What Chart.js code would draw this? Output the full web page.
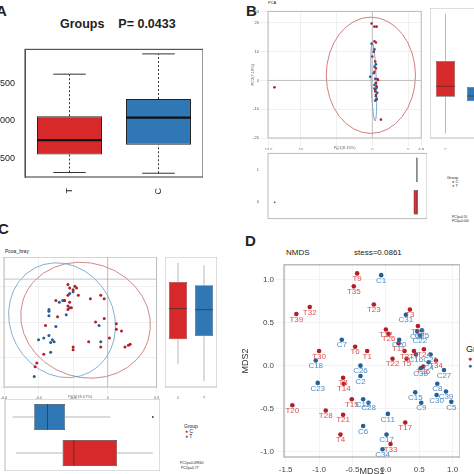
<!DOCTYPE html>
<html><head><meta charset="utf-8">
<script src="https://cdn.jsdelivr.net/npm/chart.js@4"></script>
<style>
body{margin:0;width:474px;height:474px;overflow:hidden;background:#fff;position:relative;font-family:'Liberation Sans',Arial,sans-serif}
canvas{position:absolute}
.t{position:absolute;white-space:nowrap;color:#222}
</style></head><body>
<div class="t" style="left:-4px;top:2px;font:bold 15px 'Liberation Sans'">A</div>
<div class="t" style="left:60px;top:17px;font:bold 12.5px 'Liberation Sans'">Groups&nbsp;&nbsp;&nbsp;&nbsp;P= 0.0433</div>
<div class="t" style="left:246px;top:2px;font:bold 15px 'Liberation Sans'">B</div>
<div class="t" style="left:268px;top:0px;font:4px 'Liberation Sans'">PCA</div>
<div class="t" style="left:-2px;top:220px;font:bold 15px 'Liberation Sans'">C</div>
<div class="t" style="left:5px;top:248px;font:5px 'Liberation Sans'">Pcoa_bray</div>
<div class="t" style="left:245px;top:232px;font:bold 15px 'Liberation Sans'">D</div>
<div class="t" style="left:286px;top:248px;font:8px 'Liberation Sans'">NMDS</div>
<div class="t" style="left:354px;top:248px;font:8px 'Liberation Sans'">stess=0.0861</div>
<div class="t" style="left:447px;top:175px;font:4px 'Liberation Sans'">Group</div>
<div class="t" style="left:452px;top:180px;font:4px 'Liberation Sans';line-height:4px"><span style="color:#d7282a">●</span> C<br><span style="color:#2f77b5">●</span> T</div>
<div class="t" style="left:452px;top:215px;font:3px 'Liberation Sans';line-height:4px">PC1p=0.16<br>PC2p=0.000</div>
<div class="t" style="left:184px;top:423px;font:5px 'Liberation Sans'">Group</div>
<div class="t" style="left:185px;top:429px;font:5px 'Liberation Sans';line-height:5px"><span style="color:#d7282a">●</span> C<br><span style="color:#2f77b5">●</span> T</div>
<div class="t" style="left:180px;top:461px;font:3.5px 'Liberation Sans';line-height:5px">PC1p=0.09940<br>&nbsp;PC2p=0.77</div>
<div class="t" style="left:466px;top:344px;font:9px 'Liberation Sans'">Gr</div>
<div class="t" style="left:468px;top:355px;font:7px 'Liberation Sans';line-height:7px"><span style="color:#c0282c">●</span><br><span style="color:#2c6da8">●</span></div>
<script>
// ---------- DATA ----------
const aCats = ['T','C'];
const aQ1 = [550, 680], aMed = [740, 1040], aQ3 = [1060, 1290], aLo = [310, 300], aHi = [1620, 1890];
const aTicks = [500, 1000, 1500];

const bRedPts = [[-13.6,-2.4],[-0.1,19.8],[0.3,18.7],[0.6,18.7],[0.3,13.6],[0.5,13.2],[0.2,10],[0.0,8.3],[0.4,6.6],[0.5,4.2],[0.7,0.5],[0.5,-1],[0.6,-2],[0.4,-3.2],[0.5,-5],[0.6,-6.4],[1.2,-13.6],[0.3,3.0],[0.8,0.2]];
const bBluePts = [[-0.1,12.8],[0.3,10.8],[0.5,5.6],[0.3,4.8],[0.2,2.5],[-0.3,1.3],[0.4,0.6],[0.5,-0.8],[0.3,-1.6],[0.6,-2.5],[0.4,-3.8],[0.7,-4.3],[0.5,-5.5],[0.6,-6.6],[0.4,-7],[0.3,-2.8]];
const bRightCats = ['C','T'];
const bRQ1 = [-6.0,-7.6], bRMed = [-2.5,-5.8], bRQ3 = [6.1,-2.7], bRLo = [-18.5,-8.5], bRHi = [22,-2.7];
const bROut = [[], [13.4, 5.0]];
const bBotCats = ['T','C'];
const bBQ1 = [5.35, 5.0], bBMed = [5.45, 5.3], bBQ3 = [5.55, 5.6], bBLo = [5.35, 5.0], bBHi = [5.55, 5.6];
const bBOut = [[], [-13.6]];

const cRedPts = [[-0.23,0.01],[-0.22,-0.01],[-0.19,0.0],[-0.18,-0.01],[-0.2,-0.02],[-0.23,-0.05],[-0.17,-0.05],[-0.25,-0.08],[-0.22,-0.09],[-0.3,-0.08],[-0.25,-0.08],[-0.23,-0.11],[-0.23,-0.13],[-0.21,-0.12],[-0.29,-0.17],[-0.36,-0.22],[-0.04,-0.05],[-0.02,-0.07],[-0.1,-0.07],[-0.07,-0.2],[-0.02,-0.18],[0.05,-0.21],[0.05,-0.24],[0.08,-0.25],[0.01,-0.29],[-0.11,-0.31],[-0.2,-0.34],[-0.2,-0.355],[-0.04,-0.34],[0.1,-0.34],[0.12,-0.33],[0.13,-0.325],[-0.37,-0.38],[-0.41,-0.43],[-0.42,-0.45]];
const cBluePts = [[-0.22,-0.04],[-0.2,-0.03],[-0.26,-0.08],[-0.28,-0.09],[-0.22,-0.12],[-0.24,-0.16],[-0.34,-0.13],[-0.34,-0.14],[-0.34,-0.165],[-0.3,-0.225],[-0.4,-0.3],[-0.37,-0.29],[-0.34,-0.275],[-0.32,-0.3],[-0.31,-0.31],[-0.33,-0.315],[-0.33,-0.37],[-0.05,-0.22],[-0.04,-0.31],[-0.425,-0.505]];
const cRightCats = ['C','T'];
const cRQ1 = [-0.297,-0.279], cRMed = [-0.125,-0.131], cRQ3 = [0.024,0.006], cRLo = [-0.437,-0.531], cRHi = [0.131,0.118];
const cBotCats = ['T','C'];
const cBQ1 = [-0.434,-0.272], cBMed = [-0.358,-0.208], cBQ3 = [-0.258,0.038], cBLo = [-0.557,-0.538], cBHi = [0.0,0.242];
const cBOut = [[0.242], []];

const dT = [['T9',-0.43,1.07],['T35',-0.48,0.92],['T23',-0.18,0.71],['T32',-1.14,0.68],['T39',-1.34,0.60],['T3',0.36,0.65],['T12',0.0,0.42],['T26',0.04,0.37],['T13',0.48,0.46],['T11',0.19,0.26],['T6',-0.46,0.22],['T1',-0.28,0.17],['T30',-1.0,0.17],['T2',0.28,0.17],['T7',0.42,0.17],['T24',0.57,0.19],['T34',0.75,0.06],['T22',0.10,0.08],['T5',0.31,0.08],['T36',0.56,-0.01],['T8',-0.64,-0.14],['T14',-0.63,-0.21],['T15',-0.51,-0.39],['T20',-1.40,-0.46],['T28',-0.90,-0.52],['T21',-0.64,-0.57],['T17',0.29,-0.66],['T4',-0.68,-0.80],['T33',0.07,-0.91]];
const dC = [['C1',-0.07,1.05],['C31',0.30,0.59],['C25',0.54,0.41],['C22',0.51,0.35],['C32',0.47,0.40],['C20',0.20,0.30],['C7',-0.66,0.30],['C16',0.45,0.13],['C21',0.67,0.13],['C4',0.64,0.04],['C18',-1.05,0.06],['C26',-0.38,0.0],['C38',0.52,-0.03],['C27',0.87,-0.05],['C2',-0.38,-0.12],['C23',-1.02,-0.20],['C8',0.77,-0.21],['C15',0.44,-0.31],['C30',0.76,-0.34],['C39',0.90,-0.30],['C12',-0.34,-0.39],['C28',-0.26,-0.43],['C9',0.53,-0.43],['C5',0.98,-0.42],['C11',0.03,-0.56],['C6',-0.34,-0.70],['C17',0.01,-0.80],['C34',-0.05,-0.97]];
const dXTicks = [-1.5,-1.0,-0.5,0.0,0.5,1.0];
const dYTicks = [-1.0,-0.5,0.0,0.5,1.0];

// ---------- STYLE ----------
const RED='#d7282a', BLUE='#2f77b5', DRED='#b3202a', DBLUE='#245f95';
Chart.defaults.font.family="'Liberation Sans', Arial, sans-serif";
Chart.defaults.animation=false;
Chart.defaults.plugins.legend.display=false;
Chart.defaults.plugins.tooltip.enabled=false;

const boxPlugin={id:'boxes',
 beforeDatasetsDraw(ch,a,o){ if(!o.items) return; draw(ch,o,true);},
 afterDatasetsDraw(ch,a,o){ if(!o.items) return; draw(ch,o,false);}};
function draw(ch,o,before){
 const ctx=ch.ctx, hz=o.horizontal, cs=hz?ch.scales.y:ch.scales.x, vs=hz?ch.scales.x:ch.scales.y;
 const meta=ch.getDatasetMeta(0);
 o.items.forEach((it,i)=>{
  const c=cs.getPixelForValue(i), el=meta.data[i];
  const bw=hz?el.height:el.width;
  const P=(v,w)=>hz?[vs.getPixelForValue(v),c+w]:[c+w,vs.getPixelForValue(v)];
  ctx.save();
  ctx.strokeStyle=o.whisk||'#333';ctx.lineWidth=o.lw||1;
  if(before){
   if(o.dash) ctx.setLineDash(o.dash);
   [[it.lo,it.q1],[it.q3,it.hi]].forEach(([a,b])=>{ctx.beginPath();ctx.moveTo(...P(a,0));ctx.lineTo(...P(b,0));ctx.stroke();});
   ctx.setLineDash([]);
   if(o.cap){[it.lo,it.hi].forEach(v=>{ctx.beginPath();ctx.moveTo(...P(v,-bw*o.cap/2));ctx.lineTo(...P(v,bw*o.cap/2));ctx.stroke();});}
  } else {
   ctx.strokeStyle=o.medc||'#111';ctx.lineWidth=o.mlw||1.5;
   ctx.beginPath();ctx.moveTo(...P(it.med,-bw/2));ctx.lineTo(...P(it.med,bw/2));ctx.stroke();
   (it.out||[]).forEach(v=>{const p=P(v,0);ctx.fillStyle='#333';ctx.beginPath();ctx.arc(p[0],p[1],o.or||1,0,7);ctx.fill();});
  }
  ctx.restore();
 });
}
const framePlugin={id:'frame',afterDraw(ch,a,o){if(!o.color)return;const c=ch.chartArea,x=ch.ctx;x.save();x.strokeStyle=o.color;x.lineWidth=o.lw||1;x.strokeRect(c.left,c.top,c.right-c.left,c.bottom-c.top);x.restore();}};
const ellPlugin={id:'ell',beforeDatasetsDraw(ch,a,o){
 const sx=ch.scales.x, sy=ch.scales.y, ctx=ch.ctx;
 (o.items||[]).forEach(e=>{const cx=sx.getPixelForValue(e.cx), cy=sy.getPixelForValue(e.cy);
  const rx=Math.abs(sx.getPixelForValue(e.cx+e.rx)-cx), ry=Math.abs(sy.getPixelForValue(e.cy+e.ry)-cy);
  ctx.save();ctx.strokeStyle=e.color;ctx.lineWidth=0.8;ctx.beginPath();ctx.ellipse(cx,cy,rx,ry,e.angle*Math.PI/180,0,Math.PI*2);ctx.stroke();ctx.restore();});
 (o.vlines||[]).forEach(v=>{const p=sx.getPixelForValue(v);ctx.save();ctx.strokeStyle='#aaa';ctx.lineWidth=0.7;ctx.beginPath();ctx.moveTo(p,ch.chartArea.top);ctx.lineTo(p,ch.chartArea.bottom);ctx.stroke();ctx.restore();});
 (o.hlines||[]).forEach(v=>{const p=sy.getPixelForValue(v);ctx.save();ctx.strokeStyle='#aaa';ctx.lineWidth=0.7;ctx.beginPath();ctx.moveTo(ch.chartArea.left,p);ctx.lineTo(ch.chartArea.right,p);ctx.stroke();ctx.restore();});
}};
const lblPlugin={id:'lbl',afterDatasetsDraw(ch,a,o){
 if(!o.on)return;const ctx=ch.ctx;ctx.save();ctx.font="8px 'Liberation Sans'";ctx.textAlign='center';ctx.textBaseline='top';
 ch.data.datasets.forEach((ds,di)=>{const m=ch.getDatasetMeta(di);ctx.fillStyle=ds.labelColor;
  m.data.forEach((pt,i)=>ctx.fillText(ds.names[i],pt.x,pt.y+1.5));});ctx.restore();}};
Chart.register(boxPlugin,framePlugin,ellPlugin,lblPlugin);

function mk(L,T,W,H,yW,xH,cfg){
 const c=document.createElement('canvas');c.width=W;c.height=H;c.style.left=L+'px';c.style.top=T+'px';c.style.width=W+'px';c.style.height=H+'px';
 document.body.appendChild(c);
 cfg.options=cfg.options||{};
 Object.assign(cfg.options,{responsive:false,layout:{padding:0,autoPadding:false}});
 cfg.options.scales.x.afterFit=s=>{s.height=xH;};
 cfg.options.scales.y.afterFit=s=>{s.width=yW;};
 return new Chart(c,cfg);
}
const tiny=(sz)=>({font:{size:sz},color:'#555',padding:1});
const boxItems=(q1,med,q3,lo,hi,out)=>q1.map((_,i)=>({q1:q1[i],med:med[i],q3:q3[i],lo:lo[i],hi:hi[i],out:out?out[i]:[]}));
const ggGrid={color:'#e6e6e6',lineWidth:0.6};

// ---------- PANEL A ----------
mk(-1,42,204,158,26,23,{type:'bar',
 data:{labels:aCats,datasets:[{data:aQ1.map((v,i)=>[v,aQ3[i]]),backgroundColor:[RED,BLUE],borderColor:'#222',borderWidth:1,borderSkipped:false,barPercentage:0.73,categoryPercentage:1}]},
 options:{scales:{
  x:{grid:{display:false},border:{display:false},ticks:{font:{size:9},color:'#222',maxRotation:90,minRotation:90}},
  y:{min:250,max:1950,grid:{display:false},border:{color:'#555'},afterBuildTicks:s=>{s.ticks=aTicks.map(v=>({value:v}));},ticks:{font:{size:9},color:'#222',padding:2}}},
  plugins:{boxes:{items:boxItems(aQ1,aMed,aQ3,aLo,aHi),dash:[2,2],cap:0.5,mlw:2.2},frame:{color:'#555',lw:1.2}}}});

// ---------- PANEL B ----------
mk(250,8,175,142,18,12,{type:'scatter',
 data:{datasets:[{data:bRedPts.map(p=>({x:p[0],y:p[1]})),backgroundColor:DRED,pointRadius:1.3,borderWidth:0},
  {data:bBluePts.map(p=>({x:p[0],y:p[1]})),backgroundColor:DBLUE,pointRadius:1.3,borderWidth:0}]},
 options:{scales:{
  x:{min:-14.5,max:6.8,grid:ggGrid,border:{display:false},ticks:{...tiny(4),stepSize:5},title:{display:true,text:'PC1(8.15%)',font:{size:4},padding:0}},
  y:{min:-20,max:24,grid:ggGrid,border:{display:false},ticks:{...tiny(4),stepSize:10},title:{display:true,text:'PC2(7.18%)',font:{size:4},padding:0}}},
  plugins:{ell:{items:[{cx:-0.2,cy:1.8,rx:6.2,ry:20.2,angle:0,color:'#c26060'},{cx:0.2,cy:-0.5,rx:0.36,ry:13.6,angle:-2,color:'#6090c0'}],vlines:[0],hlines:[0]},frame:{color:'#bbb',lw:1}}}});
mk(430,8,62,142,0,12,{type:'bar',
 data:{labels:bRightCats,datasets:[{data:bRQ1.map((v,i)=>[v,bRQ3[i]]),backgroundColor:[RED,BLUE],borderColor:'#555',borderWidth:0.6,borderSkipped:false,barPercentage:0.62,categoryPercentage:1}]},
 options:{scales:{x:{grid:{display:false},border:{display:false},ticks:tiny(4)},y:{min:-20,max:24,display:true,grid:{display:false},border:{display:false},ticks:{display:false}}},
  plugins:{boxes:{items:boxItems(bRQ1,bRMed,bRQ3,bRLo,bRHi,bROut),whisk:'#888',lw:0.6,medc:'#333',mlw:0.6,or:1},frame:{color:'#bbb',lw:1}}}});
mk(250,150,177,72,18,0,{type:'bar',
 data:{labels:bBotCats,datasets:[{data:bBQ1.map((v,i)=>[v,bBQ3[i]]),backgroundColor:['#222',DRED],borderColor:'#333',borderWidth:0.5,borderSkipped:false,barPercentage:0.75,categoryPercentage:1}]},
 options:{indexAxis:'y',scales:{x:{min:-14.5,max:6.8,display:true,grid:{display:false},border:{display:false},ticks:{display:false}},y:{grid:{display:false},border:{display:false},ticks:{...tiny(4),callback:(v,i)=>i===0?'1':'0'}}},
  plugins:{boxes:{items:boxItems(bBQ1,bBMed,bBQ3,bBLo,bBHi,bBOut),horizontal:true,whisk:'#555',lw:0.6,medc:'#999',mlw:0.5,or:0.8},frame:{color:'#bbb',lw:1}}}});

// ---------- PANEL C ----------
mk(0,257,160,142,4,12,{type:'scatter',
 data:{datasets:[{data:cRedPts.map(p=>({x:p[0],y:p[1]})),backgroundColor:DRED,pointRadius:1.5,borderWidth:0},
  {data:cBluePts.map(p=>({x:p[0],y:p[1]})),backgroundColor:DBLUE,pointRadius:1.5,borderWidth:0}]},
 options:{scales:{
  x:{min:-0.6,max:0.283,grid:ggGrid,border:{display:false},ticks:{...tiny(3.5),stepSize:0.2},title:{display:true,text:'PC1(18.07%)',font:{size:4},padding:0}},
  y:{min:-0.564,max:0.164,grid:ggGrid,border:{display:false},ticks:{display:false,stepSize:0.2}}},
  plugins:{ell:{items:[{cx:-0.128,cy:-0.19,rx:0.38,ry:0.32,angle:18,color:'#c46a6a'},{cx:-0.264,cy:-0.19,rx:0.30,ry:0.33,angle:-28,color:'#6a9ac4'}],vlines:[0],hlines:[0.04]},frame:{color:'#bbb',lw:1}}}});
mk(165,257,52,142,0,12,{type:'bar',
 data:{labels:cRightCats,datasets:[{data:cRQ1.map((v,i)=>[v,cRQ3[i]]),backgroundColor:[RED,BLUE],borderColor:'#444',borderWidth:0.6,borderSkipped:false,barPercentage:0.7,categoryPercentage:1}]},
 options:{scales:{x:{grid:{display:false},border:{display:false},ticks:tiny(3.5)},y:{min:-0.564,max:0.164,display:true,grid:{display:false},border:{display:false},ticks:{display:false}}},
  plugins:{boxes:{items:boxItems(cRQ1,cRMed,cRQ3,cRLo,cRHi),whisk:'#888',lw:0.6,medc:'#333',mlw:0.7},frame:{color:'#bbb',lw:1}}}});
mk(1,399,159,72,4,0,{type:'bar',
 data:{labels:cBotCats,datasets:[{data:cBQ1.map((v,i)=>[v,cBQ3[i]]),backgroundColor:[BLUE,RED],borderColor:'#444',borderWidth:0.6,borderSkipped:false,barPercentage:0.72,categoryPercentage:1}]},
 options:{indexAxis:'y',scales:{x:{min:-0.6,max:0.283,display:true,grid:{display:false},border:{display:false},ticks:{display:false}},y:{grid:{display:false},border:{display:false},ticks:{display:false}}},
  plugins:{boxes:{items:boxItems(cBQ1,cBMed,cBQ3,cBLo,cBHi,cBOut),horizontal:true,whisk:'#888',lw:0.6,medc:'#333',mlw:0.7,or:0.9},frame:{color:'#bbb',lw:1}}}});

// ---------- PANEL D ----------
mk(238,258,222,218,46,19,{type:'scatter',
 data:{datasets:[{data:dT.map(p=>({x:p[1],y:p[2]})),names:dT.map(p=>p[0]),labelColor:'#d9534f',backgroundColor:'#b51f24',pointRadius:2.3,borderWidth:0},
  {data:dC.map(p=>({x:p[1],y:p[2]})),names:dC.map(p=>p[0]),labelColor:'#4d8cc8',backgroundColor:'#245f95',pointRadius:2.3,borderWidth:0}]},
 options:{scales:{
  x:{min:-1.525,max:1.11,grid:{color:'#eee',lineWidth:0.7},border:{display:false},afterBuildTicks:s=>{s.ticks=dXTicks.map(v=>({value:v}));},ticks:{font:{size:8,lineHeight:1},color:'#444',padding:1,callback:v=>v.toFixed(1)},title:{display:true,text:'MDS1',font:{size:9,lineHeight:1},color:'#333',padding:0}},
  y:{min:-1.06,max:1.17,grid:{color:'#eee',lineWidth:0.7},border:{display:false},afterBuildTicks:s=>{s.ticks=dYTicks.map(v=>({value:v}));},ticks:{font:{size:8},color:'#444',padding:2,callback:v=>v.toFixed(1)},title:{display:true,text:'MDS2',font:{size:9},color:'#333',padding:2}}},
  plugins:{lbl:{on:true},frame:{color:'#aaa',lw:1.2}}}});
</script></body></html>
